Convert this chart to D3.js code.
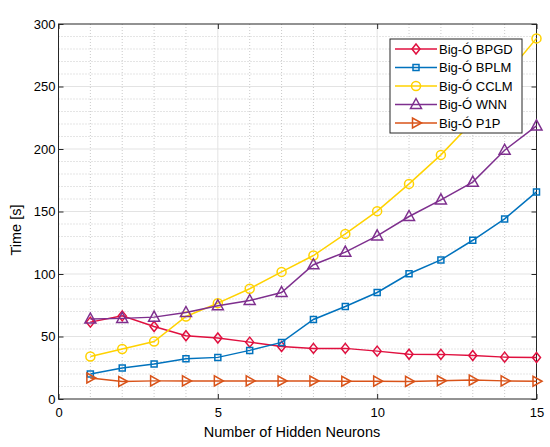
<!DOCTYPE html>
<html>
<head>
<meta charset="utf-8">
<script src="https://d3js.org/d3.v7.min.js"></script>
<style>
  body { margin: 0; background: #fff; }
  text { font-family: "Liberation Sans", Arial, sans-serif; }
</style>
</head>
<body>
<svg id="chart" width="550" height="447"></svg>
<script>
// data
const neurons = d3.range(1, 16);
const seriesNames = ["Big-Ó BPGD", "Big-Ó BPLM", "Big-Ó CCLM", "Big-Ó WNN", "Big-Ó P1P"];
const bpgd = [61.5, 66.5, 58, 50.6, 48.8, 45.5, 42, 40.5, 40.5, 38.3, 35.8, 35.7, 34.8, 33.5, 33.2];
const bplm = [20, 24.8, 28, 32.2, 33.3, 38.9, 45.3, 63.6, 74, 85.2, 100.2, 111.3, 127, 144.1, 165.7];
const cclm = [34, 40, 46, 66, 76.7, 88.2, 101.7, 114.8, 132.1, 150.3, 172.1, 195.3, 222, 258, 288.5];
const wnn = [64, 64.5, 65.5, 69.2, 74.6, 78.8, 85.2, 107.4, 117.5, 130.5, 146, 159.3, 173.5, 199, 218.5];
const p1p = [16.8, 14, 14.5, 14.5, 14.5, 14.5, 14.4, 14.4, 14.2, 14.3, 14.1, 14.6, 15.1, 14.5, 14.2];
const colors = ["#e0103f", "#0072bd", "#ffd200", "#7e2f8e", "#d95319"];
const markers = ["diamond", "square", "circle", "triangle", "tri-right"];
const xTicks = [0, 5, 10, 15];
const yTicks = [0, 50, 100, 150, 200, 250, 300];

const allSeries = [bpgd, bplm, cclm, wnn, p1p];

const margin = { top: 24, right: 13.5, bottom: 48, left: 58.5 };
const width = 550 - margin.left - margin.right;
const height = 447 - margin.top - margin.bottom;

const svg = d3.select("#chart");
const g = svg.append("g").attr("transform", `translate(${margin.left},${margin.top})`);

const x = d3.scaleLinear().domain([0, 15]).range([0, width]);
const y = d3.scaleLinear().domain([0, 300]).range([height, 0]);

// minor grid (dotted)
g.append("g").selectAll("line")
  .data(d3.range(1, 15).filter(v => v % 5 !== 0))
  .join("line")
  .attr("x1", d => x(d)).attr("x2", d => x(d))
  .attr("y1", 0).attr("y2", height)
  .attr("stroke", "#bdbdbd").attr("stroke-width", 0.8)
  .attr("stroke-dasharray", "1,2");
g.append("g").selectAll("line")
  .data(d3.range(10, 300, 10).filter(v => v % 50 !== 0))
  .join("line")
  .attr("x1", 0).attr("x2", width)
  .attr("y1", d => y(d)).attr("y2", d => y(d))
  .attr("stroke", "#bdbdbd").attr("stroke-width", 0.8)
  .attr("stroke-dasharray", "1,2");

// major grid
g.append("g").selectAll("line")
  .data(xTicks.slice(1, -1))
  .join("line")
  .attr("x1", d => x(d)).attr("x2", d => x(d))
  .attr("y1", 0).attr("y2", height)
  .attr("stroke", "#e3e3e3").attr("stroke-width", 1);
g.append("g").selectAll("line")
  .data(yTicks.slice(1, -1))
  .join("line")
  .attr("x1", 0).attr("x2", width)
  .attr("y1", d => y(d)).attr("y2", d => y(d))
  .attr("stroke", "#e3e3e3").attr("stroke-width", 1);

// axes with inward ticks on all four sides
const axisColor = "#262626";
function styleAxis(sel) {
  sel.select(".domain").remove();
  sel.selectAll(".tick line").attr("stroke", axisColor);
  sel.selectAll(".tick text").attr("fill", "#000").style("font-size", "13px")
     .style("font-family", "'Liberation Sans', Arial, sans-serif");
}
g.append("g").attr("transform", `translate(0,${height})`)
  .call(d3.axisBottom(x).tickValues(xTicks).tickSize(-5).tickPadding(9))
  .call(styleAxis);
g.append("g")
  .call(d3.axisLeft(y).tickValues(yTicks).tickSize(-5).tickPadding(3))
  .call(styleAxis);
g.append("g")
  .call(d3.axisTop(x).tickValues(xTicks).tickSize(-5).tickFormat(""))
  .call(styleAxis);
g.append("g").attr("transform", `translate(${width},0)`)
  .call(d3.axisRight(y).tickValues(yTicks).tickSize(-5).tickFormat(""))
  .call(styleAxis);

g.append("rect")
  .attr("width", width).attr("height", height)
  .attr("fill", "none").attr("stroke", axisColor).attr("stroke-width", 1);

// marker shapes
function markerPath(type) {
  switch (type) {
    case "diamond": return "M0,-5L4,0L0,5L-4,0Z";
    case "square": return "M-3,-3H3V3H-3Z";
    case "circle": return "M4.5,0A4.5,4.5 0 1,1 -4.5,0A4.5,4.5 0 1,1 4.5,0Z";
    case "triangle": return "M0,-6L5.5,4L-5.5,4Z";
    case "tri-right": return "M5.5,0L-3.5,-5L-3.5,5Z";
  }
}

const line = d3.line().x((d, i) => x(neurons[i])).y(d => y(d));

allSeries.forEach((vals, k) => {
  const sg = g.append("g");
  sg.append("path")
    .datum(vals)
    .attr("fill", "none")
    .attr("stroke", colors[k])
    .attr("stroke-width", 1.5)
    .attr("d", line);
  sg.selectAll("path.mk")
    .data(vals)
    .join("path")
    .attr("class", "mk")
    .attr("transform", (d, i) => `translate(${x(neurons[i])},${y(d)})`)
    .attr("d", markerPath(markers[k]))
    .attr("fill", "none")
    .attr("stroke", colors[k])
    .attr("stroke-width", 1.5);
});

// axis labels
svg.append("text")
  .attr("x", 292).attr("y", 437)
  .attr("text-anchor", "middle")
  .style("font-size", "14.5px")
  .text("Number of Hidden Neurons");
svg.append("text")
  .attr("transform", "translate(20.5,230) rotate(-90)")
  .attr("text-anchor", "middle")
  .style("font-size", "14.5px")
  .text("Time [s]");

// legend
const lg = svg.append("g").attr("transform", "translate(390,39)");
lg.append("rect")
  .attr("width", 132).attr("height", 94)
  .attr("fill", "#fff").attr("stroke", axisColor).attr("stroke-width", 1);
seriesNames.forEach((name, k) => {
  const yy = 10 + k * 18.5;
  lg.append("line")
    .attr("x1", 5).attr("x2", 47).attr("y1", yy).attr("y2", yy)
    .attr("stroke", colors[k]).attr("stroke-width", 1.5);
  lg.append("path")
    .attr("transform", `translate(26,${yy})`)
    .attr("d", markerPath(markers[k]))
    .attr("fill", "none").attr("stroke", colors[k]).attr("stroke-width", 1.5);
  lg.append("text")
    .attr("x", 49).attr("y", yy + 4.5)
    .style("font-size", "13px")
    .text(name);
});
</script>
</body>
</html>
